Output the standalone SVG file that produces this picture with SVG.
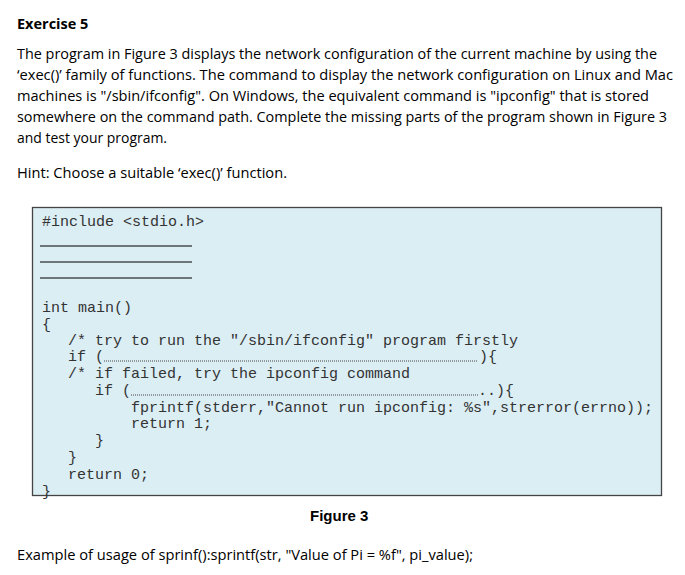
<svg xmlns="http://www.w3.org/2000/svg" width="685" height="575" viewBox="0 0 685 575">
<style>
.t{font-family:"Open Sans","Liberation Sans",sans-serif;font-size:14.5px;fill:#000}
.c{font-family:"Liberation Mono",monospace;font-size:15px;fill:#333}
.d{stroke:#444;stroke-width:1;stroke-dasharray:1 1}
.u{stroke:#000;stroke-width:1.2}
</style>
<rect width="685" height="575" fill="#fff"/>
<text class="t" x="17" y="29" font-weight="bold">Exercise 5</text>
<text class="t" x="17" y="59" textLength="640" lengthAdjust="spacingAndGlyphs">The program in Figure 3 displays the network configuration of the current machine by using the</text>
<text class="t" x="17" y="80" textLength="656" lengthAdjust="spacingAndGlyphs">‘exec()’ family of functions. The command to display the network configuration on Linux and Mac</text>
<text class="t" x="17" y="101" textLength="632" lengthAdjust="spacingAndGlyphs">machines is "/sbin/ifconfig". On Windows, the equivalent command is "ipconfig" that is stored</text>
<text class="t" x="17" y="122" textLength="650" lengthAdjust="spacingAndGlyphs">somewhere on the command path. Complete the missing parts of the program shown in Figure 3</text>
<text class="t" x="17" y="143" textLength="150" lengthAdjust="spacingAndGlyphs">and test your program.</text>
<text class="t" x="17" y="178" textLength="270" lengthAdjust="spacingAndGlyphs">Hint: Choose a suitable ‘exec()’ function.</text>
<g id="code">
<rect x="32.5" y="207.5" width="629" height="288" fill="#dbeef4" stroke="#444" stroke-width="1.3"/>
<text class="c" x="42" y="226">#include &lt;stdio.h&gt;</text>
<line class="u" x1="40" y1="246" x2="192" y2="246"/>
<line class="u" x1="40" y1="262" x2="192" y2="262"/>
<line class="u" x1="40" y1="278" x2="192" y2="278"/>
<text class="c" x="42" y="312">int main()</text>
<text class="c" x="42" y="329">{</text>
<text class="c" x="68" y="345">/* try to run the "/sbin/ifconfig" program firstly</text>
<text class="c" x="68" y="361">if (</text>
<line class="d" x1="104" y1="361" x2="478" y2="361"/>
<text class="c" x="479" y="361">){</text>
<text class="c" x="68" y="378">/* if failed, try the ipconfig command</text>
<text class="c" x="95" y="395">if (</text>
<line class="d" x1="131" y1="395" x2="478" y2="395"/>
<text class="c" x="478" y="395">..){</text>
<text class="c" x="131" y="412">fprintf(stderr,"Cannot run ipconfig: %s",strerror(errno));</text>
<text class="c" x="131" y="428">return 1;</text>
<text class="c" x="95" y="445">}</text>
<text class="c" x="68" y="462">}</text>
<text class="c" x="68" y="479">return 0;</text>
<text class="c" x="42" y="496">}</text>
</g>
<text x="310" y="521" font-family="Liberation Sans,sans-serif" font-size="15" font-weight="bold">Figure 3</text>
<text class="t" x="17" y="560" textLength="456" lengthAdjust="spacingAndGlyphs">Example of usage of sprinf():sprintf(str, "Value of Pi = %f", pi_value);</text>
</svg>
